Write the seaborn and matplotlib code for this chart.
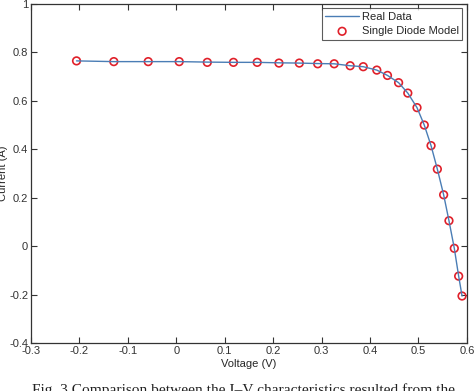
import pandas as pd
import seaborn as sns
import matplotlib.pyplot as plt

# I-V points
voltage = [-0.206, -0.129, -0.058, 0.006, 0.064, 0.118, 0.167, 0.212, 0.254, 0.292,
           0.326, 0.359, 0.386, 0.414, 0.436, 0.459, 0.478, 0.497, 0.512, 0.526,
           0.539, 0.552, 0.563, 0.574, 0.583, 0.590]
current_real = [0.765, 0.762, 0.762, 0.762, 0.760, 0.759, 0.759, 0.757, 0.756, 0.754,
                0.753, 0.745, 0.741, 0.727, 0.705, 0.675, 0.632, 0.572, 0.500, 0.415,
                0.318, 0.212, 0.105, -0.009, -0.124, -0.206]
current_model = [0.765, 0.762, 0.762, 0.762, 0.759, 0.759, 0.759, 0.756, 0.756, 0.753,
                 0.753, 0.745, 0.741, 0.727, 0.705, 0.675, 0.632, 0.572, 0.500, 0.415,
                 0.318, 0.212, 0.105, -0.009, -0.124, -0.206]
xticks = [-0.3, -0.2, -0.1, 0, 0.1, 0.2, 0.3, 0.4, 0.5, 0.6]
xticklabels = ['-0.3', '-0.2', '-0.1', '0', '0.1', '0.2', '0.3', '0.4', '0.5', '0.6']
yticks = [-0.4, -0.2, 0, 0.2, 0.4, 0.6, 0.8, 1]
yticklabels = ['-0.4', '-0.2', '0', '0.2', '0.4', '0.6', '0.8', '1']

df = pd.DataFrame({'V': voltage, 'I_real': current_real, 'I_model': current_model})

sns.set_style('ticks')
plt.rcParams['font.family'] = ['Liberation Sans', 'DejaVu Sans']
plt.rcParams['axes.edgecolor'] = '#333333'

fig = plt.figure(figsize=(4.74, 3.91), dpi=100)
ax = fig.add_axes([0.0654, 0.1228, 0.9196, 0.867])

sns.lineplot(data=df, x='V', y='I_real', sort=False, ax=ax, color='#4a7db5',
             linewidth=1.0, label='Real Data')
sns.scatterplot(data=df, x='V', y='I_model', ax=ax, marker='o', s=30,
                facecolors='none', edgecolor='#e0202a', linewidth=1.2,
                label='Single Diode Model')

ax.set_xlim(-0.3, 0.6)
ax.set_ylim(-0.4, 1)
ax.set_xticks(xticks)
ax.set_xticklabels(xticklabels)
ax.set_yticks(yticks)
ax.set_yticklabels(yticklabels)
ax.tick_params(direction='in', length=4, width=0.8, top=True, right=True,
               labelsize=8, colors='#333333', pad=2)
for s in ax.spines.values():
    s.set_linewidth(0.9)
ax.set_xlabel('Voltage (V)', fontsize=8, labelpad=2)
ax.set_ylabel('Current (A)', fontsize=8, labelpad=1)

leg = ax.legend(loc='upper right', fontsize=8, frameon=True, fancybox=False,
                edgecolor='#333333', handlelength=3, borderpad=0.3,
                borderaxespad=0.4, labelspacing=0.4, handletextpad=0.3)
leg.get_frame().set_linewidth(0.8)

fig.text(0.068, 1 - 383 / 391, 'Fig. 3 Comparison between the I\u2013V characteristics resulted from the',
         family=['Liberation Serif'], fontsize=11.1, va='top', ha='left', color='#222222')

fig.savefig('out.png', dpi=100)
